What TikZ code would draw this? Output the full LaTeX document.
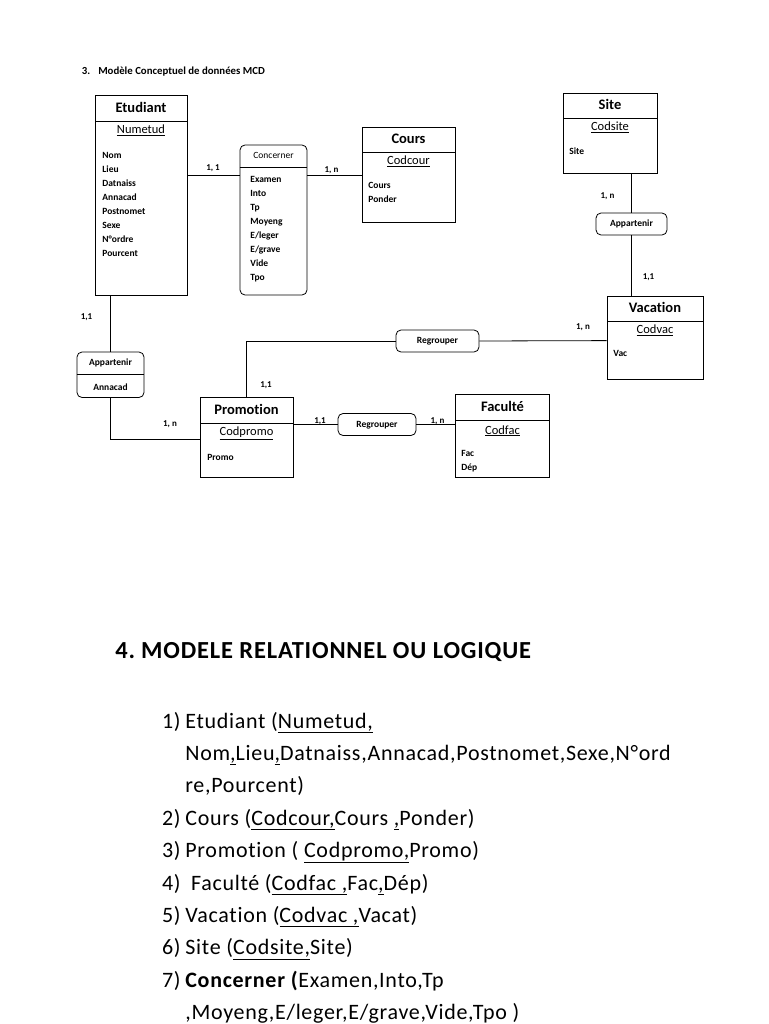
\documentclass[tikz,border=0pt]{standalone}
\usepackage{fontspec}
\setmainfont[Ligatures={NoCommon,NoContextual}]{Carlito}
\newfontfamily\listfont[LetterSpace=3.2, Ligatures={NoCommon,NoContextual}]{Carlito}
\newfontfamily\headfont[LetterSpace=3.4, Ligatures={NoCommon,NoContextual}]{Carlito}
\begin{document}
\begin{tikzpicture} [
      x=1pt, y=1pt, line width=0.8pt,
      entname/.style={draw, rectangle, inner sep=0pt, text height=11pt, text depth=2.5pt, font=\bfseries\fontsize{14.5}{16}\selectfont},
      entbody/.style={draw, rectangle, inner sep=0pt},
      entkey/.style={anchor=base, inner sep=0pt, font=\fontsize{12.5}{14}\selectfont},
      attrs/.style={anchor=base west, inner sep=0pt, font=\bfseries\fontsize{9.5}{14}\selectfont},
      assoc/.style={draw, rectangle, rounded corners=5pt, inner sep=0pt, text height=7pt, text depth=2pt, font=\bfseries\fontsize{9.5}{11}\selectfont},
      assochead/.style={inner sep=0pt, text height=7pt, text depth=2pt, font=\bfseries\fontsize{9.5}{11}\selectfont},
      card/.style={anchor=base, inner sep=0pt, font=\bfseries\fontsize{9}{10}\selectfont}
   ]
    \fill[white] (0,0) rectangle (768,-1024);
    \useasboundingbox (0,0) rectangle (768,-1024);

    \node[anchor=base west, inner sep=0pt, font=\bfseries\fontsize{10.8}{12}\selectfont] (ndTitle) at (81.5,-75) {3.\hspace{8pt}Modèle Conceptuel de données MCD};

    % entities
    \node[entname, minimum width=92pt, minimum height=26pt] (ndEtuHead) at (141,-108) {Etudiant};
    \node[entbody, minimum width=92pt, minimum height=174pt, below of=ndEtuHead, node distance=100pt] (ndEtuBody) {};
    \node[entkey] (ndEtuKey) at (141,-134) {\underline{Numetud}};
    \node[attrs] (ndEtuAttr) at (102,-159) {
      \begin{tabular}[t]{@{}l@{}}
        Nom\\ Lieu\\ Datnaiss\\ Annacad\\ Postnomet\\ Sexe\\ N°ordre\\ Pourcent
      \end{tabular}
    };

    \node[entname, minimum width=93pt, minimum height=25pt] (ndCoursHead) at (408.5,-139.5) {Cours};
    \node[entbody, minimum width=93pt, minimum height=70pt, below of=ndCoursHead, node distance=47.5pt] (ndCoursBody) {};
    \node[entkey] (ndCoursKey) at (408.5,-165) {\underline{Codcour}};
    \node[attrs] (ndCoursAttr) at (368,-188.5) {
      \begin{tabular}[t]{@{}l@{}}
        Cours\\ Ponder
      \end{tabular}
    };

    \node[entname, minimum width=94pt, minimum height=25pt] (ndSiteHead) at (610,-105.5) {Site};
    \node[entbody, minimum width=94pt, minimum height=55pt, below of=ndSiteHead, node distance=40pt] (ndSiteBody) {};
    \node[entkey] (ndSiteKey) at (610,-131) {\underline{Codsite}};
    \node[attrs] (ndSiteAttr) at (569,-155) {Site};

    \node[entname, minimum width=96pt, minimum height=25pt] (ndVacHead) at (655,-308.5) {Vacation};
    \node[entbody, minimum width=96pt, minimum height=58pt, below of=ndVacHead, node distance=41.5pt] (ndVacBody) {};
    \node[entkey] (ndVacKey) at (655,-333.5) {\underline{Codvac}};
    \node[attrs] (ndVacAttr) at (613,-356.5) {Vac};

    \node[entname, minimum width=93pt, minimum height=26pt] (ndPromoHead) at (246.5,-410) {Promotion};
    \node[entbody, minimum width=93pt, minimum height=54pt, below of=ndPromoHead, node distance=40pt] (ndPromoBody) {};
    \node[entkey] (ndPromoKey) at (246.5,-435.5) {\underline{Codpromo}};
    \node[attrs] (ndPromoAttr) at (207,-460) {Promo};

    \node[entname, minimum width=94pt, minimum height=26pt] (ndFacHead) at (502.5,-407) {Faculté};
    \node[entbody, minimum width=94pt, minimum height=57pt, below of=ndFacHead, node distance=41.5pt] (ndFacBody) {};
    \node[entkey] (ndFacKey) at (502.5,-434) {\underline{Codfac}};
    \node[attrs] (ndFacAttr) at (461,-456) {
      \begin{tabular}[t]{@{}l@{}}
        Fac\\ Dép
      \end{tabular}
    };

    % associations
    \node[assoc, minimum width=67pt, minimum height=150pt] (ndConcerner) at (273.5,-220) {};
    \node[assochead, minimum width=67pt, minimum height=22pt, anchor=north, font=\fontsize{9.5}{11}\selectfont] (ndConcTitle) at (ndConcerner.north) {Concerner};
    \draw (ndConcTitle.south west) -- (ndConcTitle.south east);
    \node[attrs] (ndConcAttr) at (250,-182.5) {
      \begin{tabular}[t]{@{}l@{}}
        Examen\\ Into\\ Tp\\ Moyeng\\ E/leger\\ E/grave\\ Vide\\ Tpo
      \end{tabular}
    };

    \node[assoc, minimum width=67pt, minimum height=45.5pt] (ndEtuApp) at (110.5,-374.75) {};
    \node[assochead, minimum width=67pt, minimum height=22pt, anchor=north] (ndEtuAppTitle) at (ndEtuApp.north) {Appartenir};
    \draw (ndEtuAppTitle.south west) -- (ndEtuAppTitle.south east);
    \node[attrs, anchor=base] (ndEtuAppAttr) at (110.5,-390) {Annacad};

    \node[assoc, minimum width=71pt, minimum height=22pt] (ndSiteApp) at (631.5,-224) {Appartenir};
    \node[assoc, minimum width=83pt, minimum height=22pt] (ndRegVac) at (437.5,-341) {Regrouper};
    \node[assoc, minimum width=78pt, minimum height=22pt] (ndRegFac) at (377,-424.5) {Regrouper};

    % links
    \draw ([yshift=-55pt]ndEtuBody.north east) -- ([yshift=-31pt]ndConcerner.north west);
    \draw ([yshift=-31pt]ndConcerner.north east) -- ([yshift=-24pt]ndCoursBody.north west);
    \draw (ndSiteApp.north) -- (ndSiteApp.north |- ndSiteBody.south);
    \draw (ndSiteApp.south) -- (ndSiteApp.south |- ndVacHead.north);
    \draw ([yshift=-20pt]ndVacBody.north west) -- (ndRegVac.east);
    \draw (ndRegVac.west) -| (ndPromoHead.north);
    \draw (ndEtuApp.north) -- (ndEtuApp.north |- ndEtuBody.south);
    \draw (ndEtuApp.south) |- ([yshift=-17pt]ndPromoBody.north west);
    \draw (ndRegFac.west) -- (ndRegFac.west -| ndPromoBody.east);
    \draw (ndRegFac.east) -- (ndRegFac.east -| ndFacBody.west);

    % cardinalities
    \node[card] (ndCard1) at (213,-171) {1, 1};
    \node[card] (ndCard2) at (331.5,-172.5) {1, n};
    \node[card] (ndCard3) at (607.5,-199) {1, n};
    \node[card] (ndCard4) at (648.5,-279) {1,1};
    \node[card] (ndCard5) at (583,-329) {1, n};
    \node[card] (ndCard6) at (266,-387) {1,1};
    \node[card] (ndCard7) at (86.5,-319) {1,1};
    \node[card] (ndCard8) at (170,-426.5) {1, n};
    \node[card] (ndCard9) at (320,-423) {1,1};
    \node[card] (ndCard10) at (437.5,-423) {1, n};

    % relational model
    \node[anchor=base west, inner sep=0pt, font=\headfont\bfseries\fontsize{24.5}{27}\selectfont] (ndHeading) at (115,-658) {4.\hspace{6pt}MODELE RELATIONNEL OU LOGIQUE};
    \node[anchor=base west, inner sep=0pt, font=\listfont\fontsize{22}{32.4}\selectfont] (ndRelList) at (161.7,-728) {
      \begin{tabular}[t]{@{}p{23.3pt}@{}l@{}}
        1) & Etudiant (\underline{Numetud,}\\
           & Nom\underline{,}Lieu\underline{,}Datnaiss,Annacad,Postnomet,Sexe,N°ord\\
           & re,Pourcent)\\
        2) & Cours (\underline{Codcour,}Cours \underline{,}Ponder)\\
        3) & Promotion ( \underline{Codpromo,}Promo)\\
        4) & \ Faculté (\underline{Codfac ,}Fac\underline{,}Dép)\\
        5) & Vacation (\underline{Codvac ,}Vacat)\\
        6) & Site (\underline{Codsite,}Site)\\
        7) & \textbf{Concerner (}Examen,Into,Tp\\
           & ,Moyeng,E/leger,E/grave,Vide,Tpo )
      \end{tabular}
    };
  \end{tikzpicture}
\end{document}
